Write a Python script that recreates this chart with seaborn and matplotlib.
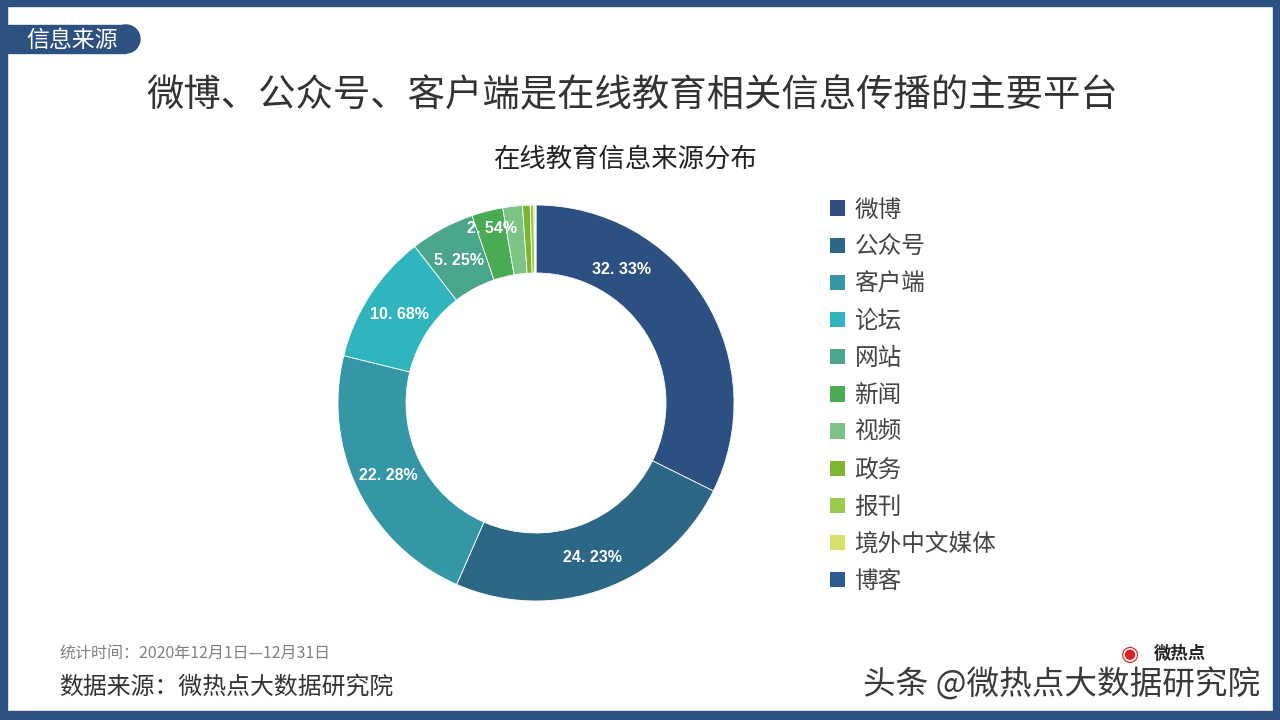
import numpy as np
import matplotlib
matplotlib.use("Agg")
import matplotlib.pyplot as plt
import seaborn as sns
from matplotlib.patches import Rectangle, Ellipse, Patch

sns.set_theme(style="white")
plt.rcParams['font.family'] = ['Noto Sans CJK SC', 'DejaVu Sans']

# ---- data ----
categories = ["微博", "公众号", "客户端", "论坛", "网站", "新闻", "视频", "政务", "报刊", "境外中文媒体", "博客"]
shares = [32.33, 24.23, 22.28, 10.68, 5.25, 2.54, 1.60, 0.62, 0.30, 0.12, 0.05]
label_texts = ["32. 33%", "24. 23%", "22. 28%", "10. 68%", "5. 25%", "2. 54%"]
colors = ["#2c5082", "#2c6785", "#3597a6", "#30b5bf", "#4aa68a", "#4aab55",
          "#7bc486", "#7db530", "#99cc4d", "#d9e06a", "#2c5c91"]

title = "微博、公众号、客户端是在线教育相关信息传播的主要平台"
subtitle = "在线教育信息来源分布"
tag = "信息来源"
note_time = "统计时间：2020年12月1日—12月31日"
note_src = "数据来源：微热点大数据研究院"
watermark = "头条 @微热点大数据研究院"
logo_text = "微热点"

W, H = 1280, 720
fig = plt.figure(figsize=(12.8, 7.2), dpi=100)
fig.patch.set_facecolor("white")

frame = "#2d5181"
# frame border
fig.patches.append(Rectangle((0, 1 - 6 / H), 1, 6 / H, transform=fig.transFigure, color=frame, zorder=0))
fig.patches.append(Rectangle((0, 0), 1, 9 / H, transform=fig.transFigure, color=frame, zorder=0))
fig.patches.append(Rectangle((0, 0), 7 / W, 1, transform=fig.transFigure, color=frame, zorder=0))
fig.patches.append(Rectangle((1 - 7 / W, 0), 7 / W, 1, transform=fig.transFigure, color=frame, zorder=0))

# tag (rectangle + rounded right end)
fig.patches.append(Rectangle((0, (H - 53) / H), 126 / W, 28 / H, transform=fig.transFigure,
                             color=frame, zorder=1))
fig.patches.append(Ellipse((126 / W, (H - 39) / H), 28 / W, 28 / H, transform=fig.transFigure,
                           color=frame, zorder=1))
fig.text(72 / W, 1 - 40 / H, tag, color="white", fontsize=16.5, ha="center", va="center",
         fontweight="medium", zorder=2)

fig.text(632 / W, 1 - 96 / H, title, color="#333333", fontsize=26.9, ha="center", va="center")
fig.text(625 / W, 1 - 160 / H, subtitle, color="#222222", fontsize=19, ha="center", va="center")

# donut
cx, cy, R = 536, 403, 198
ax = fig.add_axes([(cx - R) / W, (H - cy - R) / H, 2 * R / W, 2 * R / H])
wedges, _ = ax.pie(shares, colors=colors, startangle=90, counterclock=False, radius=1,
                   wedgeprops=dict(width=1 - 130 / 198, edgecolor="white", linewidth=0.6))
ax.set_xlim(-1, 1)
ax.set_ylim(-1, 1)
ax.set_axis_off()

total = sum(shares)
cum = np.cumsum([0] + shares)
label_pos_frac = [0.28, 0.5, 0.5, 0.5, 0.5, 0.5]
label_rad = [0.80, 0.83, 0.83, 0.82, 0.82, 0.91]
for i, txt in enumerate(label_texts):
    frac = (cum[i] + label_pos_frac[i] * shares[i]) / total
    ang = np.deg2rad(90 - 360 * frac)
    r = label_rad[i]
    ax.text(r * np.cos(ang), r * np.sin(ang), txt, color="white", fontsize=11.5,
            fontweight="bold", ha="center", va="center", family=["Liberation Sans"])

handles = [Patch(facecolor=c, edgecolor="none") for c in colors]
leg = fig.legend(handles, categories, loc="upper left", bbox_to_anchor=(821 / W, 1 - 189 / H),
                 frameon=False, fontsize=17, handlelength=0.62, handleheight=0.62,
                 handletextpad=0.4, labelspacing=0.6, borderaxespad=0)
for t in leg.get_texts():
    t.set_color("#444444")

fig.text(59 / W, 1 - 653 / H, note_time, color="#808080", fontsize=11.5, ha="left", va="center")
fig.text(59 / W, 1 - 687 / H, note_src, color="#333333", fontsize=17.2, ha="left", va="center")

fig.text(1260 / W, 1 - 685 / H, watermark, color="#3a3a3a", fontsize=23.5, ha="right", va="center")
fig.text(1180 / W, 1 - 654 / H, logo_text, color="#222222", fontsize=12.5, ha="center", va="center",
         fontweight="bold")
fig.text(1130 / W, 1 - 654 / H, "◉", color="#e02020", fontsize=15, ha="center", va="center",
         family=["DejaVu Sans"])

fig.savefig("out.png", dpi=100, facecolor="white")
